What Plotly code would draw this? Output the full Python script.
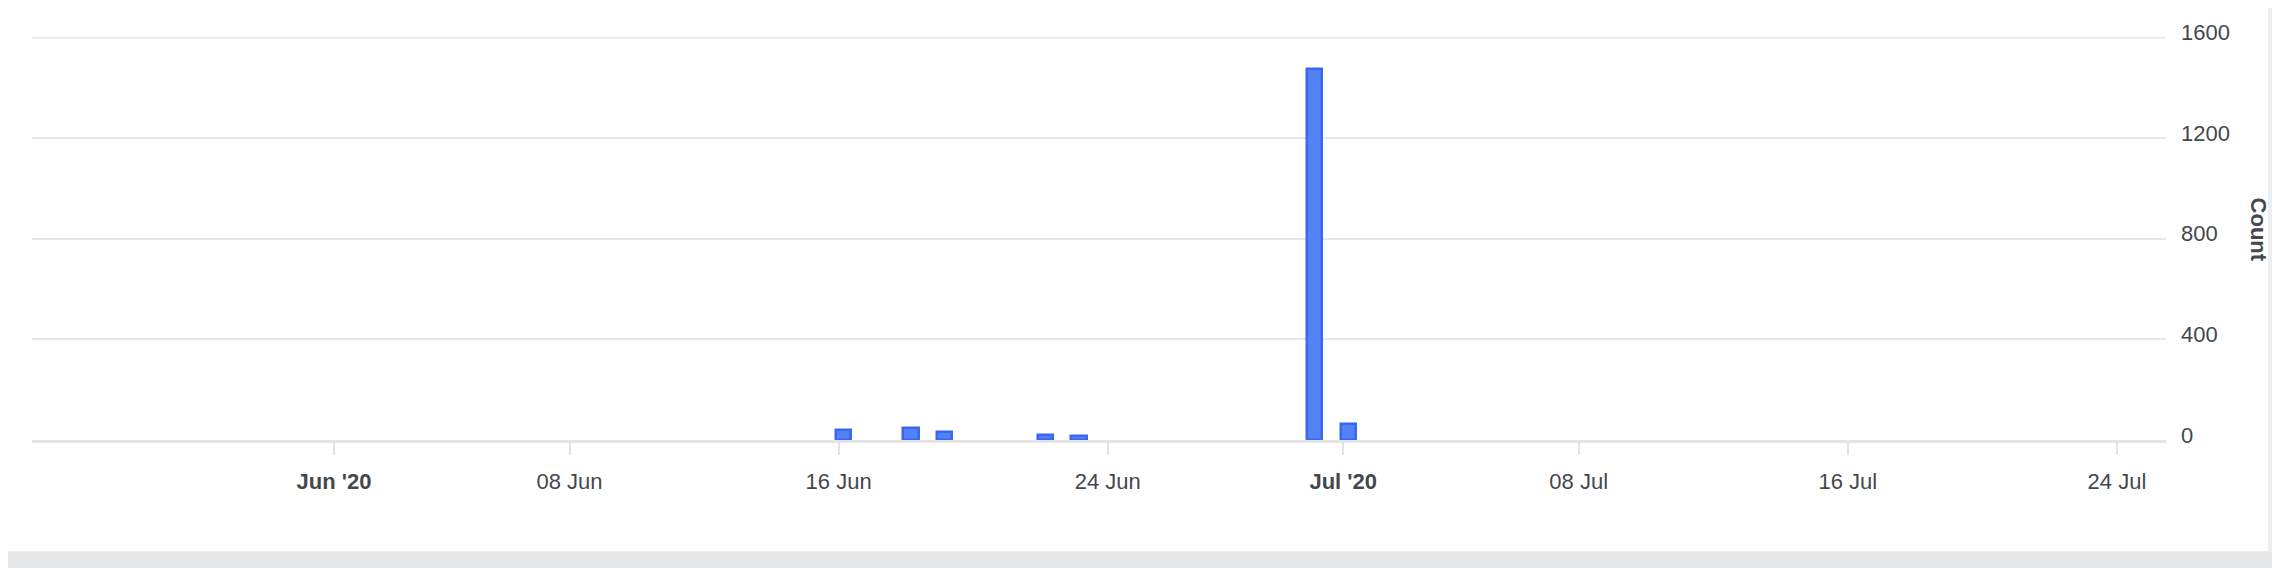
import plotly.graph_objects as go

# daily counts
dates = ['2020-06-16', '2020-06-18', '2020-06-19', '2020-06-22',
         '2020-06-23', '2020-06-30', '2020-07-01']
counts = [40, 47, 33, 18, 14, 1475, 65]

tick_dates = ['2020-06-01', '2020-06-08', '2020-06-16', '2020-06-24',
              '2020-07-01', '2020-07-08', '2020-07-16', '2020-07-24']
tick_labels = ["<b>Jun '20</b>", '08 Jun', '16 Jun', '24 Jun',
               "<b>Jul '20</b>", '08 Jul', '16 Jul', '24 Jul']
y_ticks = [0, 400, 800, 1200, 1600]

# page has an 8px body margin, so the figure is 8px smaller
W, H = 2272, 560
ML, MR, MT, MB = 24, 114, 26, 128
DAY = 86400000

def px(x):
    return (x - ML) / (W - ML - MR)

def py(y):
    return (H - MB - y) / (H - MT - MB)

fig = go.Figure(go.Bar(
    x=dates,
    y=counts,
    width=0.46 * DAY,
    offset=-0.08 * DAY,
    marker=dict(color='#5282f6', line=dict(color='#3867f6', width=2.5)),
    showlegend=False,
))

fig.update_layout(
    width=W, height=H,
    margin=dict(l=ML, r=MR, t=MT, b=MB),
    paper_bgcolor='white',
    plot_bgcolor='white',
    font=dict(family='Liberation Sans, Arial, sans-serif', size=22, color='#44484c'),
    xaxis=dict(
        type='date',
        range=['2020-05-23 00:30', '2020-07-25 11:00'],
        tickvals=tick_dates,
        ticktext=tick_labels,
        showgrid=False,
        ticks='outside', ticklen=12, tickwidth=2, tickcolor='#e3e3e3',
        ticklabelstandoff=8,
        showline=True, linecolor='#e4e4e4', linewidth=3,
        zeroline=False,
    ),
    yaxis=dict(
        side='right',
        range=[0, 1602],
        tickvals=y_ticks,
        showgrid=True, gridcolor='#e6e6e6', gridwidth=2,
        zeroline=False,
        ticks='', ticklabelstandoff=14, ticklabelshift=-5,
        fixedrange=True,
    ),
    annotations=[dict(
        text='<b>Count</b>', textangle=90,
        xref='paper', yref='paper', x=px(2250), y=py(220),
        xanchor='center', yanchor='middle', showarrow=False,
        font=dict(size=22, color='#44484c'),
    )],
    shapes=[
        # top gridline at the range edge
        dict(type='line', xref='paper', yref='y', layer='below',
             x0=0, x1=1, y0=y_ticks[-1], y1=y_ticks[-1],
             line=dict(color='#e6e6e6', width=2)),
        dict(type='rect', xref='paper', yref='paper', layer='below',
             x0=px(-5), x1=px(W + 5), y0=py(544), y1=py(H + 5),
             fillcolor='#e6e7e9', line=dict(width=0)),
        dict(type='rect', xref='paper', yref='paper', layer='below',
             x0=px(2260), x1=px(W + 5), y0=py(-5), y1=py(544),
             fillcolor='#eceef0', line=dict(width=0)),
    ],
    bargap=0,
)

fig.write_html('out.html')
